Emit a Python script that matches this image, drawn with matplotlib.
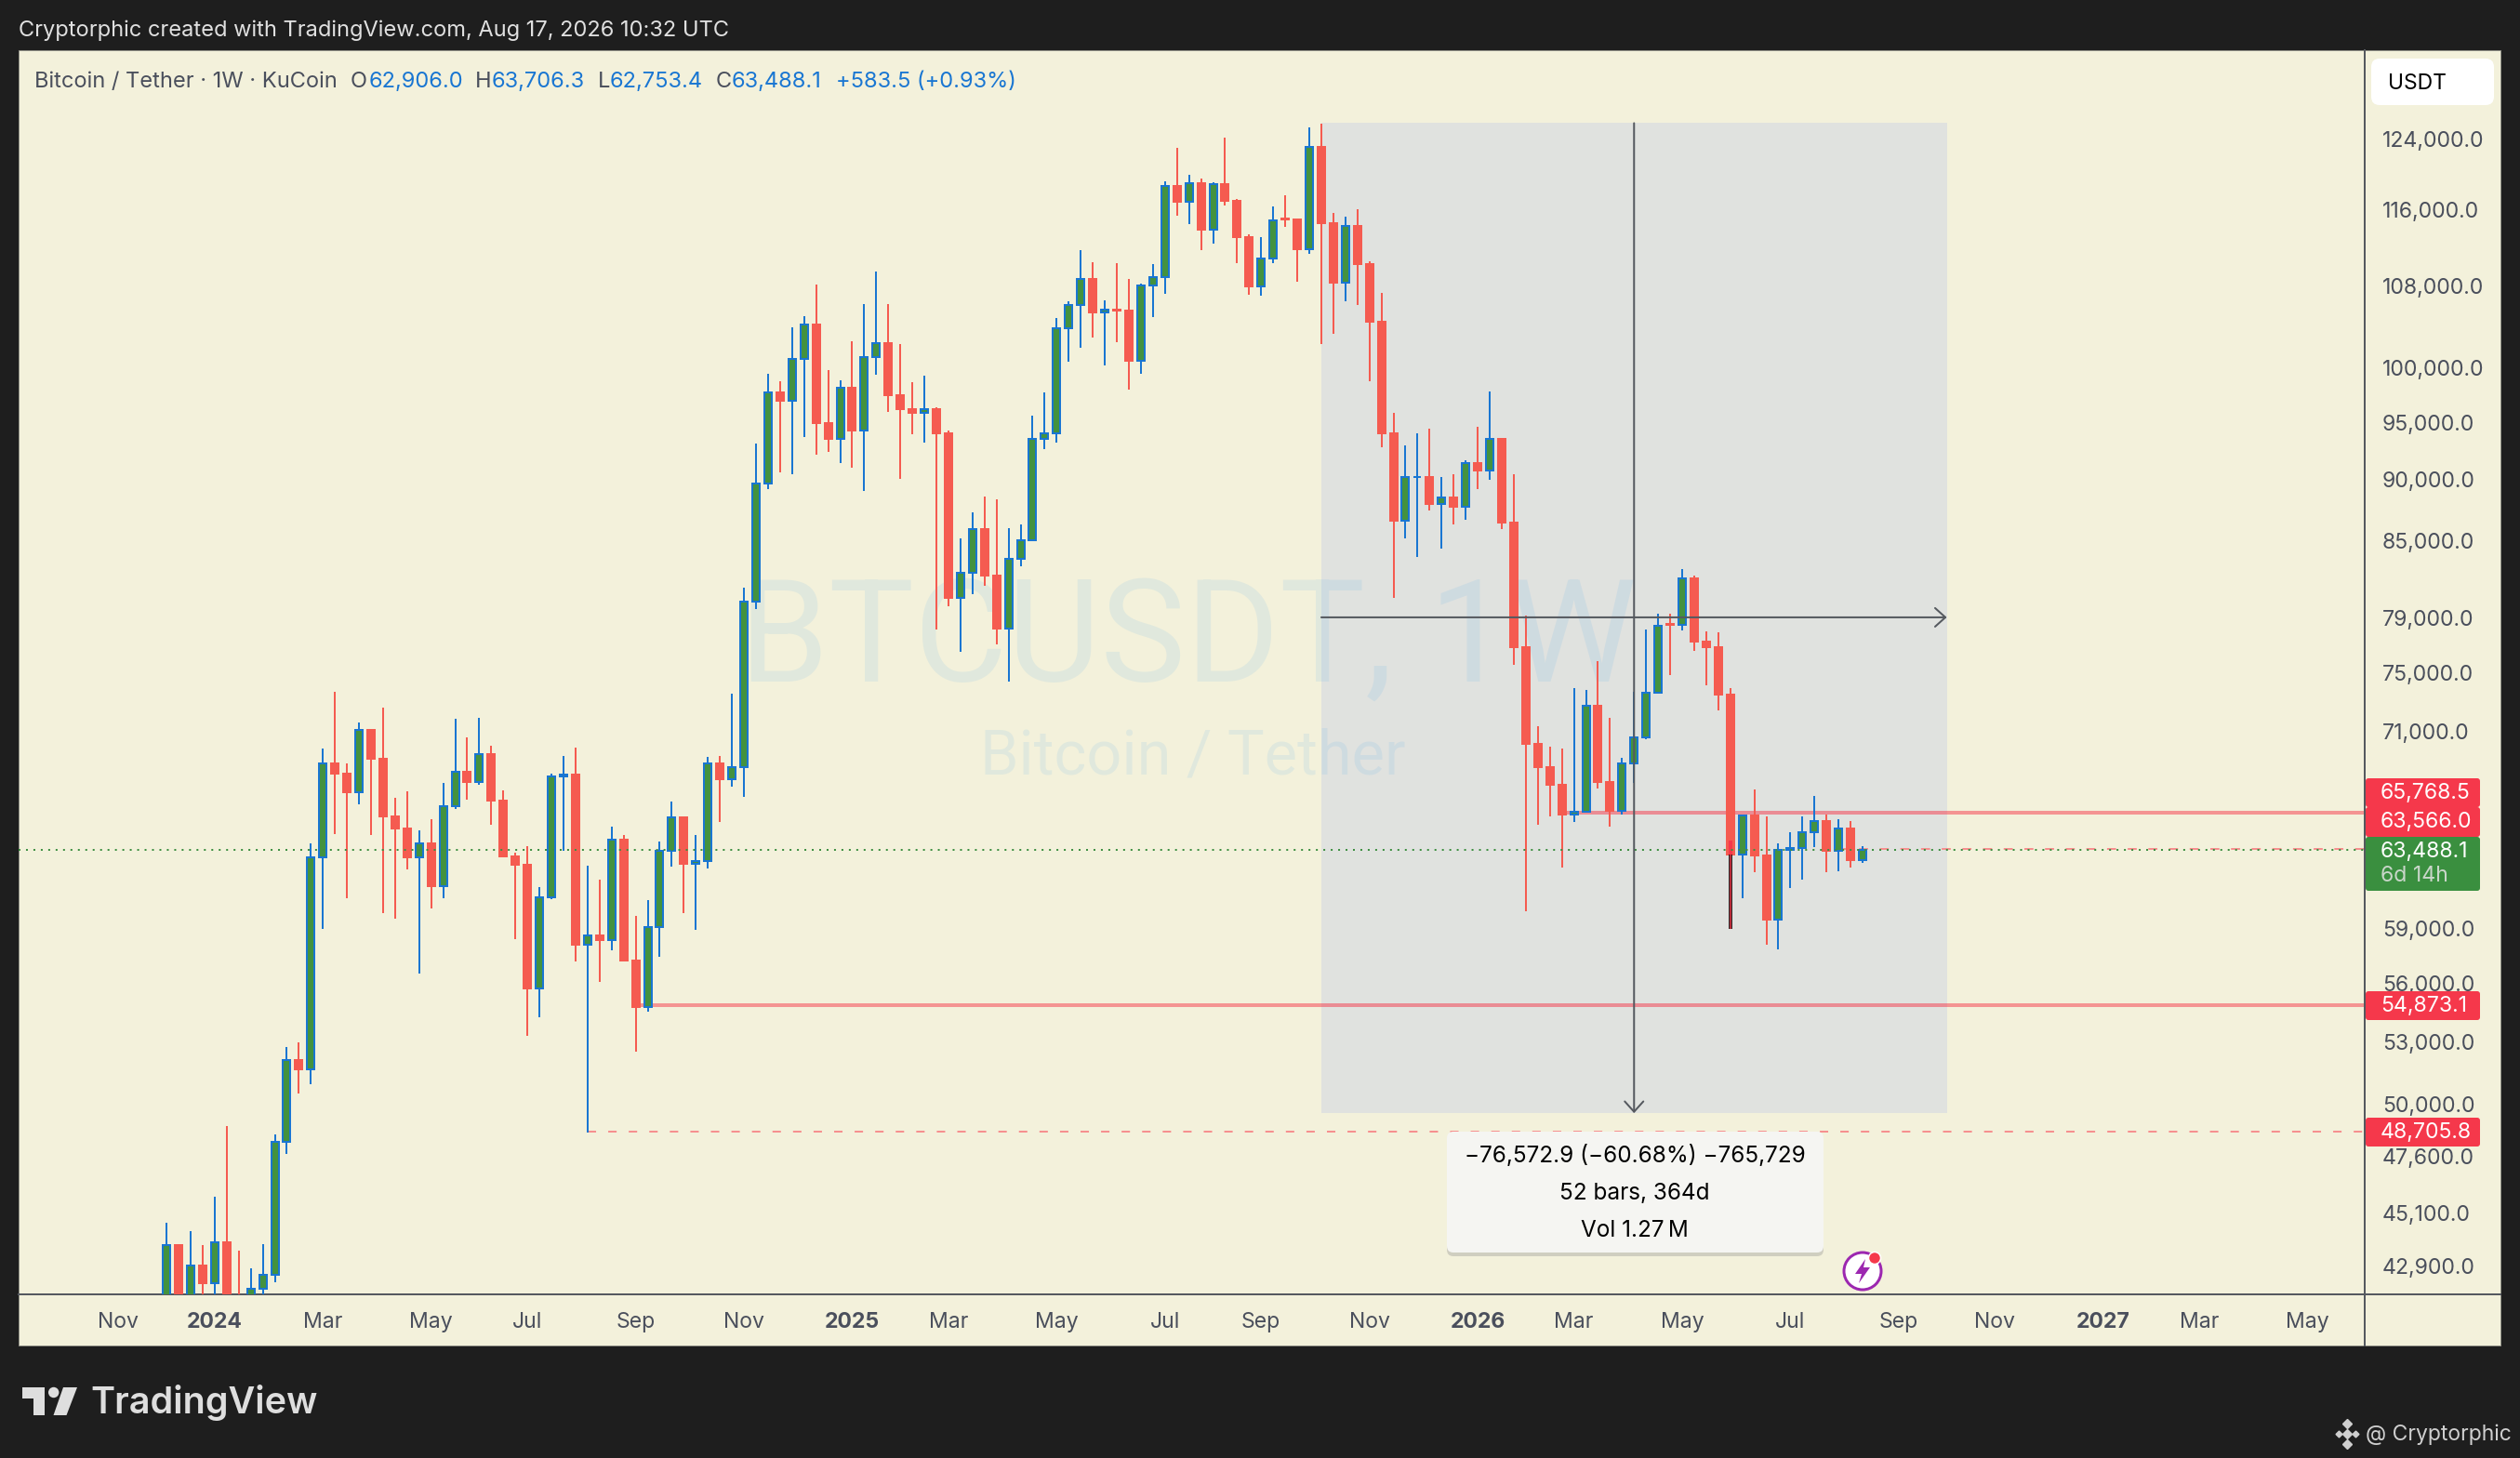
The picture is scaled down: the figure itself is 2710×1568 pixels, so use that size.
import matplotlib
matplotlib.use('Agg')
import matplotlib.dates as mdates
import matplotlib.pyplot as plt
import pandas as pd
from matplotlib.patches import Circle, FancyBboxPatch, Polygon, Rectangle
from matplotlib.ticker import NullLocator
from matplotlib.transforms import Affine2D

W, H = 2710, 1568

plt.rcParams['font.family'] = ['Inter', 'DejaVu Sans']
plt.rcParams['lines.scale_dashes'] = False

# weekly candles, BTCUSDT, first bar 2023-12-04
opens = [40900, 43758, 40721, 42945, 42240, 43895, 40903, 40721, 42015, 42543,
         48256, 52087, 51670, 63034, 68864, 68221, 67073, 71115, 69204, 65533,
         64805, 63034, 63913, 61394, 66150, 68374, 67675, 69513, 66506, 63091,
         62641, 55747, 60713, 68069, 68191, 58086, 58607, 58320, 64142, 57236,
         54784, 59028, 63458, 65474, 62669, 62837, 68895, 67887, 68680, 80197,
         89639, 97671, 96961, 100858, 104179, 94945, 93542, 98100, 94282, 101035,
         102371, 97472, 96172, 95864, 96144, 94035, 80510, 82412, 85925, 82220,
         78217, 83550, 85026, 93542, 94035, 103815, 106113, 108747, 105372, 105588,
         105526, 100682, 108082, 108937, 118699, 116945, 119011, 113913, 118907, 117047,
         113117, 107988, 110862, 115050, 114982, 111837, 123145, 114613, 108367, 114246,
         110281, 104454, 94035, 86604, 90190, 90243, 87980, 88470, 87750, 91383,
         90798, 93487, 86453, 76830, 70189, 68677, 67539, 65677, 65797, 72705,
         67711, 65892, 68901, 70624, 73635, 78530, 78465, 82018, 77277, 76885,
         73501, 63244, 65606, 63198, 59480, 63497, 63635, 64566, 65250, 63474,
         64801, 62906]
highs = [44686, 43758, 44368, 43758, 45819, 48951, 43543, 42810, 43817, 48558,
         52766, 52955, 63913, 69856, 73703, 68864, 71626, 71115, 72625, 66714,
         67133, 64660, 65386, 67614, 71818, 70609, 71882, 70075, 67193, 63317,
         63742, 61340, 68252, 69358, 69950, 62585, 61725, 64892, 64372, 59691,
         60550, 64028, 66476, 65503, 64372, 69296, 69389, 73539, 81315, 93079,
         99397, 98703, 103846, 104942, 108114, 99746, 98790, 102490, 106144, 109447,
         106144, 102222, 98617, 99223, 96312, 94254, 85151, 87239, 88547, 88315,
         85950, 86251, 95556, 97671, 104759, 106423, 111674, 110410, 106516, 110313,
         108683, 108209, 110217, 119150, 123002, 119883, 119463, 119046, 124156, 117184,
         113349, 113051, 116366, 117595, 115049, 125358, 125797, 115655, 115250, 116061,
         110507, 107265, 95808, 92916, 93980, 94392, 90190, 90428, 91623, 94558,
         97757, 93487, 90432, 79209, 71319, 70011, 69884, 73929, 73795, 75832,
         71891, 69227, 73688, 78180, 79295, 79295, 82706, 82197, 78038, 77925,
         73929, 65677, 67197, 65511, 63867, 64590, 65511, 66832, 65630, 65345,
         65273, 63706.3]
lows = [40179, 40359, 40179, 40903, 40539, 40359, 40179, 40539, 41086, 42259,
        47698, 50483, 50913, 58949, 64458, 60685, 66298, 64401, 59824, 59531,
        62334, 56524, 60092, 60685, 66003, 66565, 67524, 65008, 63091, 58372,
        53311, 54248, 60604, 63430, 57159, 48667, 56071, 57775, 57159, 52507,
        54540, 57415, 62501, 59824, 58896, 62390, 65182, 67403, 66744, 79668,
        89222, 90639, 90481, 93706, 92160, 92402, 91436, 91037, 89066, 99368,
        95948, 90085, 93952, 93215, 78148, 79878, 76523, 80792, 81432, 77061,
        74409, 82943, 85026, 92645, 93215, 100594, 101924, 102910, 100242, 102461,
        97985, 99455, 104912, 107234, 115419, 114513, 111739, 112426, 116536, 110378,
        107140, 107046, 110378, 114212, 108462, 111349, 102281, 103271, 106485, 106113,
        98761, 92808, 80510, 85176, 83697, 87443, 84359, 86302, 86680, 89222,
        90006, 85925, 75585, 59957, 65037, 65558, 62468, 65202, 65773, 67295,
        64919, 65677, 67637, 70496, 73688, 74875, 78095, 76607, 74144, 72441,
        58943, 60702, 62197, 58093, 57799, 61278, 61769, 63682, 62197, 62264,
        62468, 62753.4]
closes = [43758, 40721, 42945, 42240, 43895, 40903, 40721, 42015, 42543, 48256,
          52087, 51670, 63034, 68864, 68221, 67073, 71115, 69204, 65533, 64805,
          63034, 63913, 61394, 66150, 68374, 67675, 69513, 66506, 63091, 62641,
          55747, 60713, 68069, 68191, 58086, 58607, 58320, 64142, 57236, 54784,
          59028, 63458, 65474, 62669, 62837, 68895, 67887, 68680, 80197, 89639,
          97671, 96961, 100858, 104179, 94945, 93542, 98100, 94282, 101035, 102371,
          97472, 96172, 95864, 96144, 94035, 80510, 82412, 85925, 82220, 78217,
          83550, 85026, 93542, 94035, 103815, 106113, 108747, 105372, 105588, 105526,
          100682, 108082, 108937, 118699, 116945, 119011, 113913, 118907, 117047, 113117,
          107988, 110862, 114915, 114982, 111837, 123145, 114613, 108367, 114246, 110281,
          104454, 94035, 86604, 90190, 90243, 87980, 88470, 87750, 91383, 90798,
          93487, 86453, 76830, 70189, 68677, 67539, 65677, 65797, 72705, 67711,
          65892, 68901, 70624, 73635, 78436, 78465, 82018, 77277, 76885, 73501,
          63244, 65606, 63198, 59480, 63497, 63635, 64566, 65250, 63474, 64801,
          62905, 63488.1]

price_ticks = [124000, 116000, 108000, 100000, 95000, 90000, 85000, 79000, 75000, 71000,
               59000, 56000, 53000, 50000, 47600, 45100, 42900]
time_ticks = ['2023-11-06', '2024-01-01', '2024-03-04', '2024-05-06', '2024-07-01', '2024-09-02',
              '2024-11-04', '2025-01-06', '2025-03-03', '2025-05-05', '2025-07-07', '2025-09-01',
              '2025-11-03', '2026-01-05', '2026-03-02', '2026-05-04', '2026-07-06', '2026-09-07',
              '2026-11-02', '2027-01-04', '2027-03-01', '2027-05-03']
time_labels = ['Nov', '2024', 'Mar', 'May', 'Jul', 'Sep', 'Nov', '2025', 'Mar', 'May', 'Jul', 'Sep',
               'Nov', '2026', 'Mar', 'May', 'Jul', 'Sep', 'Nov', '2027', 'Mar', 'May']

# drawing tool and levels
measure_start, measure_end = '2025-10-06', '2026-10-05'
measure_top, measure_bottom = 125900, 49560
cross_date, cross_price = '2026-04-06', 79050
level_high = 65768.5
level_mid = 63566.0
level_low = 54873.1
level_wick = 48705.8
last_price = 63488.1
alert_top = 64060

BG = '#F3F1DB'
DARK = '#1E1E1E'
RED = '#F55B50'
BLUE = '#1976D2'
GREEN = '#43923F'
GREY = '#4A4F5C'
LINE = '#55595F'
FLAG_RED = '#F5384B'
PX = 0.72  # one image pixel in points at dpi 100
SCALE_FONT = 16.6

dates = mdates.date2num(pd.date_range('2023-12-04', periods=len(closes), freq='7D'))
pix = Affine2D().scale(1, -1).translate(0, H)

fig = plt.figure(figsize=(W / 100, H / 100), dpi=100, facecolor=DARK)

# chrome behind the chart
bg = fig.add_axes([0, 0, 1, 1], zorder=0)
bg.axis('off')
bg.add_patch(Rectangle((20, 54), 2669, 1393, transform=pix, fc=BG, ec='#8F8F85', lw=PX))
bg.plot([2543, 2689], [1392, 1392], transform=pix, color=LINE, lw=2 * PX, clip_on=False)
bg.plot([2543, 2543], [1392, 1447], transform=pix, color=LINE, lw=2 * PX, clip_on=False)
bg.set_xlim(0, 1)
bg.set_ylim(0, 1)

bg.text(20, 33, 'Cryptorphic created with TradingView.com, Aug 17, 2026 10:32 UTC',
        transform=pix, color='#E0E0E0', fontsize=17, va='center')

# TradingView logo
logo = '#DEDEDE'
bg.add_patch(Polygon([(24, 1492), (48, 1492), (48, 1522), (36, 1522), (36, 1504), (24, 1504)],
                     transform=pix, fc=logo, ec='none'))
bg.add_patch(Circle((57.7, 1497.5), 5.7, transform=pix, fc=logo, ec='none'))
bg.add_patch(Polygon([(68, 1492), (83, 1492), (71.5, 1522), (57.5, 1522)], transform=pix, fc=logo, ec='none'))
bg.text(97, 1509, 'TradingView', transform=pix, color=logo, fontsize=28.5, fontweight='semibold', va='center')

# author tag
tag = '#CFCFCF'
for dx, dy, s in [(0, 0, 5), (-9, 0, 3.5), (9, 0, 3.5), (0, -11, 5), (0, 11, 5)]:
    bg.plot([2524 + dx], [1542 + dy], marker='D', ms=s, color=tag, transform=pix, clip_on=False)
bg.text(2701, 1543, '@ Cryptorphic', transform=pix, color=tag, fontsize=16.5, va='center', ha='right')

# main chart
ax = fig.add_axes([20 / W, 1 - 1392 / H, 2523 / W, 1338 / H], zorder=1)
ax.patch.set_alpha(0)
ax.set_yscale('log')
ax.set_ylim(41785, 134850)
last_day = dates[-1]
ax.set_xlim(last_day - 1073.1, last_day + 292.2)

ax.set_yticks(price_ticks)
ax.set_yticklabels(['{:,.1f}'.format(v) for v in price_ticks])
ax.yaxis.set_minor_locator(NullLocator())
ax.yaxis.tick_right()
ax.tick_params(axis='y', length=0, pad=13.5, labelsize=SCALE_FONT, labelcolor=GREY)

ax.set_xticks(mdates.date2num(pd.to_datetime(time_ticks)))
ax.set_xticklabels(time_labels)
ax.tick_params(axis='x', length=0, pad=14, labelsize=SCALE_FONT, labelcolor=GREY)
for label in ax.get_xticklabels():
    if label.get_text().isdigit():
        label.set_fontweight('bold')

for side in ['top', 'left']:
    ax.spines[side].set_visible(False)
for side in ['bottom', 'right']:
    ax.spines[side].set_color(LINE)
    ax.spines[side].set_linewidth(2 * PX)

# watermark
ax.text(795, 733, 'BTCUSDT, 1W', transform=pix, fontsize=111, fontfamily='Roboto',
        color='#2196F3', alpha=0.09, zorder=1, va='baseline')
ax.text(1054, 833, 'Bitcoin / Tether', transform=pix, fontsize=48, fontfamily='Roboto',
        color='#2196F3', alpha=0.09, zorder=1, va='baseline')

# long position style measure box
box_left, box_right = mdates.date2num(pd.to_datetime([measure_start, measure_end]))
ax.add_patch(Rectangle((box_left, measure_bottom), box_right - box_left, measure_top - measure_bottom,
                       fc='#E0E2DF', ec='none', zorder=0.5))

# horizontal levels
right_edge = ax.get_xlim()[1]
ax.hlines(level_high, dates[116], right_edge, color=FLAG_RED, alpha=0.5, lw=4 * PX, zorder=2)
ax.hlines(level_low, dates[39], right_edge, color=FLAG_RED, alpha=0.5, lw=4 * PX, zorder=2)
ax.plot([dates[35], right_edge], [level_wick, level_wick], color='#F6908F', lw=2 * PX,
        ls=(0, (6.5, 9.4)), zorder=2)
ax.plot([dates[139], right_edge], [level_mid, level_mid], color='#F6908F', lw=2 * PX,
        ls=(0, (7, 9)), zorder=2)

# candles
up = [c >= o for o, c in zip(opens, closes)]
wick_colors = [BLUE if u else RED for u in up]
ax.vlines(dates, lows, highs, colors=wick_colors, lw=2 * PX, zorder=3)
tops = [max(o, c) for o, c in zip(opens, closes)]
bottoms = [min(o, c) for o, c in zip(opens, closes)]
ax.bar(dates, [t - b for t, b in zip(tops, bottoms)], bottom=bottoms, width=4.33,
       color=[GREEN if u else RED for u in up], edgecolor=wick_colors, linewidth=2 * PX, zorder=4)

# black and red alert mark on the big wick
ax.vlines(dates[130], lows[130], closes[130], color='black', lw=3.6 * PX, zorder=5)
ax.vlines(dates[130], lows[130], closes[130], color=FLAG_RED, lw=1.5 * PX, zorder=5.1)
ax.vlines(dates[130], closes[130], alert_top, color=FLAG_RED, lw=4 * PX, zorder=5)

# last price dotted line
ax.axhline(last_price, color='#3E8F42', lw=2 * PX, ls=(0, (1.44, 4.3)), zorder=6)

# measure cross with arrow heads
cross_x = mdates.date2num(pd.to_datetime(cross_date))
arrow = dict(arrowstyle='->,head_length=0.8,head_width=0.72', mutation_scale=10, lw=2 * PX, color=LINE,
             shrinkA=0, shrinkB=0)
ax.annotate('', xy=(box_right, cross_price), xytext=(box_left, cross_price), arrowprops=arrow, zorder=7)
ax.annotate('', xy=(cross_x, measure_bottom), xytext=(cross_x, measure_top), arrowprops=arrow, zorder=7)

# overlay: legend, flags, tooltip, icons
top = fig.add_axes([0, 0, 1, 1], zorder=2)
top.axis('off')
top.patch.set_alpha(0)
top.set_xlim(0, 1)
top.set_ylim(0, 1)

legend_size = 17
top.text(37, 88, 'Bitcoin / Tether · 1W · KuCoin', transform=pix, color=GREY, fontsize=legend_size, va='center')
for x, s, color in [(377, 'O', GREY), (397, '62,906.0', BLUE), (511, 'H', GREY), (529, '63,706.3', BLUE),
                    (643, 'L', GREY), (656, '62,753.4', BLUE), (770, 'C', GREY), (787, '63,488.1', BLUE),
                    (899, '+583.5 (+0.93%)', BLUE)]:
    top.text(x, 88, s, transform=pix, color=color, fontsize=legend_size, va='center')

# currency button
top.add_patch(FancyBboxPatch((2550, 63), 132, 50, boxstyle='round,pad=0,rounding_size=9', transform=pix,
                             fc='white', ec='none'))
top.text(2568, 90, 'USDT', transform=pix, color='black', fontsize=16.5, va='center')


def flag(y0, y1, color, text, text_y):
    top.add_patch(FancyBboxPatch((2544, y0), 123, y1 - y0, boxstyle='round,pad=0,rounding_size=3',
                                 transform=pix, fc=color, ec='none'))
    top.text(2560, text_y, text, transform=pix, color='white', fontsize=SCALE_FONT, va='center')


flag(837, 868, FLAG_RED, '{:,.1f}'.format(level_high), 853)
flag(868, 900, FLAG_RED, '{:,.1f}'.format(level_mid), 884)
flag(900, 958, '#3A8F3F', '{:,.1f}'.format(last_price), 916)
top.text(2560, 942, '6d 14h', transform=pix, color='#C9D6C9', fontsize=SCALE_FONT, va='center')
flag(1066, 1097, FLAG_RED, '{:,.1f}'.format(level_low), 1082)
flag(1202, 1233, FLAG_RED, '{:,.1f}'.format(level_wick), 1218)

# measure tooltip
top.add_patch(FancyBboxPatch((1556, 1221), 405, 130, boxstyle='round,pad=0,rounding_size=7', transform=pix,
                             fc='#CFCEC0', ec='none'))
top.add_patch(FancyBboxPatch((1556, 1217), 405, 130, boxstyle='round,pad=0,rounding_size=7', transform=pix,
                             fc='#F5F5F2', ec='none'))
for y, s in [(1243, '−76,572.9 (−60.68%) −765,729'), (1283, '52 bars, 364d'), (1323, 'Vol 1.27\u202fM')]:
    top.text(1758, y, s, transform=pix, color='black', fontsize=17.5, ha='center', va='center')

# lightning icon
top.add_patch(Circle((2003, 1367), 20, transform=pix, fc='white', ec='#9C27B0', lw=3 * PX))
top.add_patch(Polygon([(2006, 1354), (1995, 1370), (2002, 1370), (1999, 1380), (2011, 1363), (2004, 1363)],
                      transform=pix, fc='#9C27B0', ec='none'))
top.add_patch(Circle((2016, 1353), 6.5, transform=pix, fc=FLAG_RED, ec='white', lw=1.5 * PX))

fig.savefig('out.png', dpi=100, facecolor=DARK)
